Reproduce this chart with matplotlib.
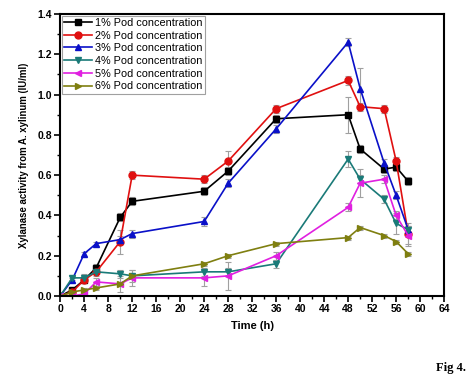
import matplotlib
matplotlib.use("Agg")
import matplotlib.pyplot as plt
from matplotlib.ticker import MultipleLocator
import numpy as np

plt.rcParams['font.family'] = ['Liberation Sans', 'DejaVu Sans']

time_h = [0, 2, 4, 6, 10, 12, 24, 28, 36, 48, 50, 54, 56, 58]
labels = ["1% Pod concentration", "2% Pod concentration", "3% Pod concentration",
          "4% Pod concentration", "5% Pod concentration", "6% Pod concentration"]
pod1 = [0, 0.03, 0.08, 0.14, 0.39, 0.47, 0.52, 0.62, 0.88, 0.90, 0.73, 0.63, 0.64, 0.57]
pod2 = [0, 0.02, 0.08, 0.12, 0.27, 0.60, 0.58, 0.67, 0.93, 1.07, 0.94, 0.93, 0.67, 0.31]
pod3 = [0, 0.08, 0.21, 0.26, 0.28, 0.31, 0.37, 0.56, 0.83, 1.26, 1.03, 0.66, 0.50, 0.33]
pod4 = [0, 0.09, 0.09, 0.12, 0.11, 0.10, 0.12, 0.12, 0.16, 0.68, 0.58, 0.48, 0.36, 0.33]
pod5 = [0, 0.00, 0.01, 0.07, 0.06, 0.09, 0.09, 0.10, 0.20, 0.44, 0.56, 0.58, 0.40, 0.30]
pod6 = [0, 0.02, 0.03, 0.04, 0.06, 0.10, 0.16, 0.20, 0.26, 0.29, 0.34, 0.30, 0.27, 0.21]
err1 = [0, 0.01, 0.01, 0.02, 0.02, 0.02, 0.02, 0.02, 0.02, 0.09, 0.02, 0.02, 0.02, 0.02]
err2 = [0, 0.01, 0.01, 0.02, 0.06, 0.02, 0.02, 0.05, 0.02, 0.02, 0.02, 0.02, 0.02, 0.05]
err3 = [0, 0.01, 0.01, 0.01, 0.02, 0.02, 0.02, 0.02, 0.02, 0.02, 0.10, 0.02, 0.02, 0.02]
err4 = [0, 0.01, 0.02, 0.01, 0.02, 0.03, 0.02, 0.02, 0.02, 0.04, 0.02, 0.02, 0.05, 0.02]
err5 = [0, 0.01, 0.01, 0.02, 0.04, 0.04, 0.04, 0.07, 0.02, 0.02, 0.07, 0.02, 0.02, 0.05]
err6 = [0, 0.01, 0.01, 0.01, 0.01, 0.01, 0.01, 0.01, 0.01, 0.01, 0.01, 0.01, 0.01, 0.01]

series = [pod1, pod2, pod3, pod4, pod5, pod6]
errs = [err1, err2, err3, err4, err5, err6]
colors = ['black', '#E01010', '#0A10C8', '#1A7A78', '#E020E0', '#7F7F10']
markers = ['s', 'o', '^', 'v', '<', '>']

fig = plt.figure(figsize=(4.74, 3.79), dpi=100)
ax = fig.add_axes([0.127, 0.219, 0.810, 0.744])

for y, e, c, m, lab in zip(series, errs, colors, markers, labels):
    ax.errorbar(time_h, y, yerr=e, fmt='none', ecolor='#A0A0A0', elinewidth=0.8,
                capsize=2, capthick=0.8, zorder=1)
    ax.plot(time_h, y, color=c, marker=m, markersize=5, linewidth=1.2, label=lab, zorder=2)

ax.set_xlim(0, 64)
ax.set_ylim(0, 1.4)
ax.xaxis.set_major_locator(MultipleLocator(4))
ax.xaxis.set_minor_locator(MultipleLocator(2))
ax.yaxis.set_major_locator(MultipleLocator(0.2))
ax.yaxis.set_minor_locator(MultipleLocator(0.1))
ax.yaxis.set_major_formatter(matplotlib.ticker.FormatStrFormatter('%.1f'))
ax.tick_params(which='major', direction='out', length=4, width=1.2, labelsize=7.5, pad=2)
ax.tick_params(which='minor', direction='out', length=2, width=1.0)
for lbl in ax.get_xticklabels() + ax.get_yticklabels():
    lbl.set_fontweight('bold')
for s in ax.spines.values():
    s.set_linewidth(1.5)

ax.set_xlabel('Time (h)', fontsize=8, fontweight='bold', labelpad=5)
ax.set_ylabel('Xylanase activity from A. xylinum (IU/ml)', fontsize=6.9, fontweight='bold', labelpad=6)

leg = ax.legend(loc='upper left', fontsize=7.8, frameon=True, fancybox=False,
                borderaxespad=0.15, borderpad=0.2, labelspacing=0.25, handlelength=2.6,
                handletextpad=0.3, edgecolor='#888888')
leg.get_frame().set_linewidth(0.8)

fig.text(0.983, 0.012, 'Fig 4.', fontsize=9, fontweight='bold', family='Liberation Serif',
         ha='right', va='bottom')

fig.savefig('out.png', dpi=100)
